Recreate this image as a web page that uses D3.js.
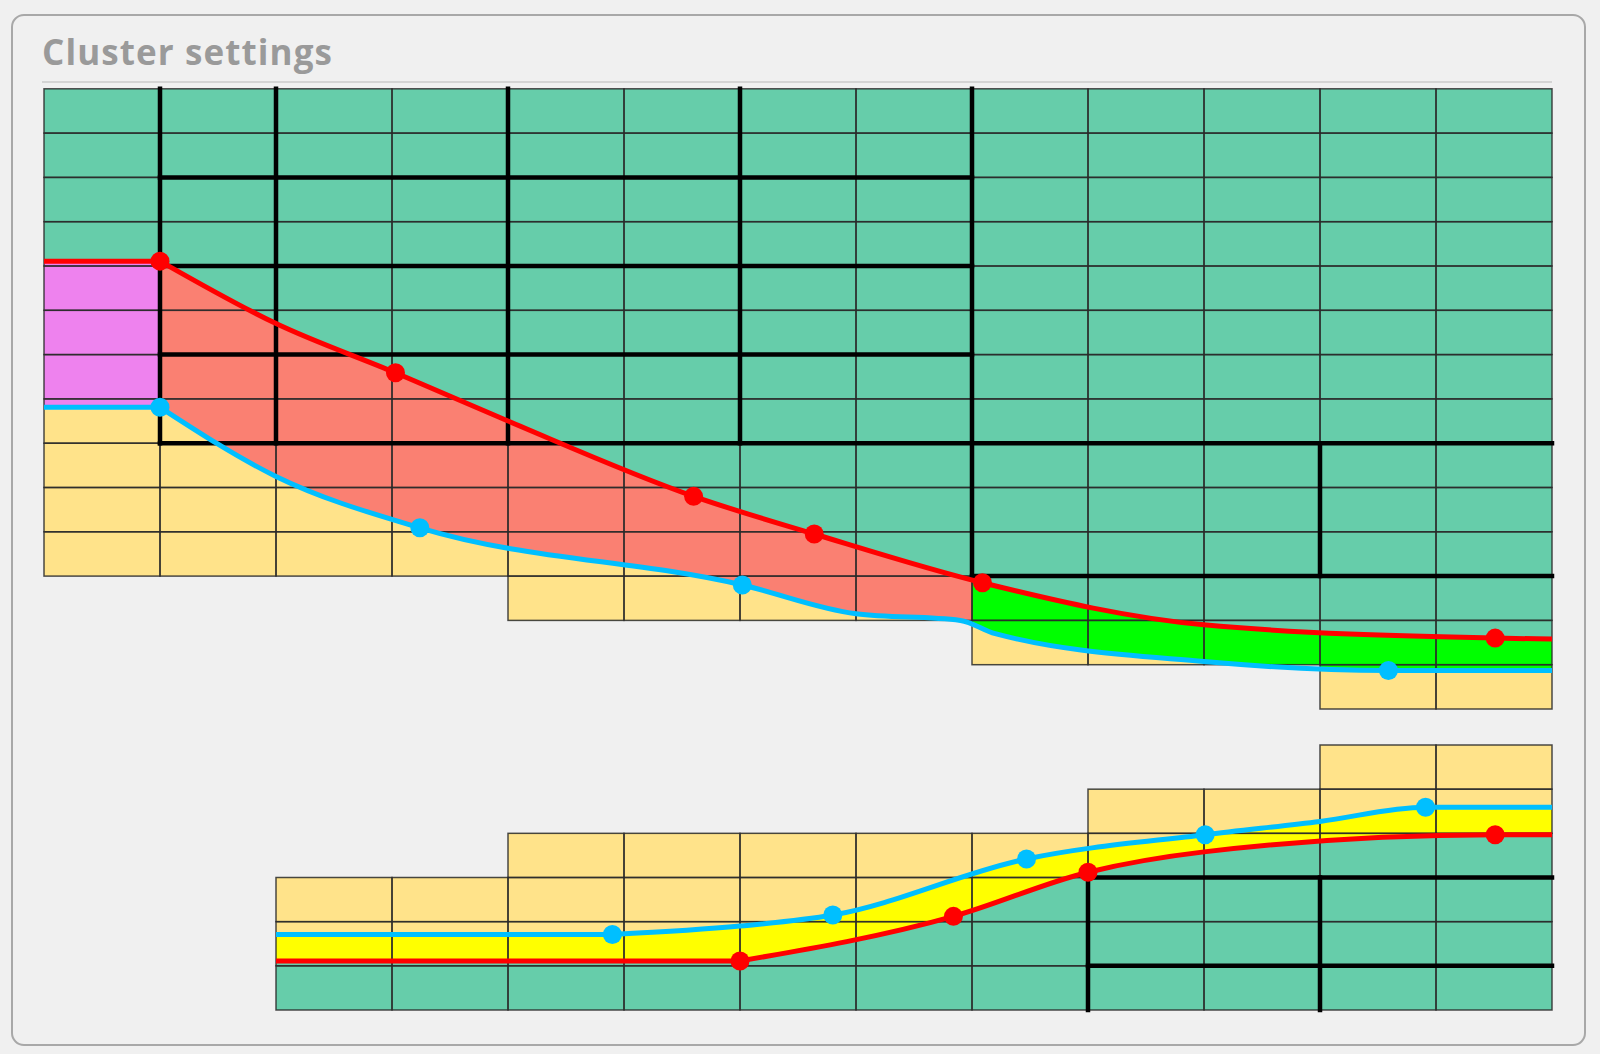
<!DOCTYPE html>
<html><head><meta charset="utf-8">
<script src="https://cdn.jsdelivr.net/npm/d3@7"></script>
<style>body{margin:0;background:#f0f0f0;}svg{display:block;}</style>
</head><body>
<svg id="chart" width="1600" height="1054"></svg>
<script>
/* cluster settings grid */
const topBottomRows = [11, 11, 11, 11, 12, 12, 12, 12, 13, 13, 13, 14, 14];
const botCols = [2, 3, 4, 5, 6, 7, 8, 9, 10, 11, 12];
const botTopRows = [3, 3, 2, 2, 2, 2, 2, 1, 1, 0, 0];

// curves in grid units [col, row, marked]; first segment is the flat start
const topRed = [[0,3.89,0],[1,3.89,1],[2,5.3,0],[3.03,6.41,1],[4,7.5,0],[5.6,9.2,1],[6.64,10.05,1],[8.09,11.15,1],[10,12.1,0],[12.51,12.4,1],[13,12.42,0]];
const topBlue = [[0,7.19,0],[1,7.19,1],[2,8.75,0],[3.24,9.91,1],[6.02,11.2,1],[7,11.85,0],[7.9,12.0,0],[8.2,12.3,0],[10,12.93,0],[11.59,13.13,1],[13,13.13,0]];
const botRed = [[2,4.89,0],[6,4.89,1],[7.84,3.88,1],[9,2.88,1],[10,2.42,0],[12.51,2.03,1],[13,2.03,0]];
const botBlue = [[2,4.29,0],[4.9,4.29,1],[6,4.1,0],[6.8,3.85,1],[8.47,2.58,1],[10.01,2.03,1],[11,1.73,0],[11.91,1.41,1],[13,1.41,0]];

// fill bands between red and blue: [fromCol, toCol, colour]
const topBands = [[0,1,"#ee82ee"],[1,8,"#fa8072"],[8,13,"#00ff00"]];

// thick cluster borders [c0,r0,c1,r1]
const topThick = [[1,0,1,8],[2,0,2,8],[4,0,4,8],[6,0,6,8],[8,0,8,11],[1,2,8,2],[1,4,8,4],[1,6,8,6],[1,8,13,8],[11,8,11,11],[8,11,13,11]];
const botThick = [[9,3,13,3],[9,5,13,5],[9,3,9,6],[11,3,11,6]];

const svg = d3.select("#chart");
const x = d3.scaleLinear().domain([0, 13]).range([44, 1552]);
const yT = d3.scaleLinear().domain([0, 14]).range([88.8, 88.8 + 14 * 44.3]);
const yB = d3.scaleLinear().domain([0, 6]).range([745, 1010]);

const teal = "#66cdaa", beige = "#ffe38a";

// panel
svg.append("rect").attr("x", 12).attr("y", 15).attr("width", 1573).attr("height", 1030)
    .attr("rx", 12).attr("fill", "#f0f0f0").attr("stroke", "#a8a8a8").attr("stroke-width", 2);
svg.append("text").attr("x", 42).attr("y", 65).text("Cluster settings")
    .attr("font-family", "Open Sans").attr("font-weight", "bold").attr("font-size", 35)
    .attr("textLength", 290).attr("fill", "#9a9a9a");
svg.append("line").attr("x1", 42).attr("x2", 1552).attr("y1", 82).attr("y2", 82)
    .attr("stroke", "#d4d4d4").attr("stroke-width", 2);

const defs = svg.append("defs");

// flat lead-in drawn straight, the rest as a monotone curve
function pathOf(data, y) {
    const line = d3.line().curve(d3.curveMonotoneX).x(d => x(d[0])).y(d => y(d[1]));
    return `M${x(data[0][0])},${y(data[0][1])}L` + line(data.slice(1)).slice(1);
}
function pathRev(data, y) {
    const rev = data.slice().reverse();
    const line = d3.line().curve(d3.curveMonotoneX).x(d => x(d[0])).y(d => y(d[1]));
    const head = rev.slice(0, -1);
    return line(head).slice(1) + `L${x(rev[rev.length - 1][0])},${y(rev[rev.length - 1][1])}`;
}

function section(cells, y, red, blue, bands, thick, isTop) {
    const g = svg.append("g");
    const clipId = isTop ? "clipTop" : "clipBot";
    const cp = defs.append("clipPath").attr("id", clipId);
    cells.forEach(c => cp.append("rect").attr("x", x(c.col)).attr("y", y(c.r0))
        .attr("width", x(c.col + 1) - x(c.col)).attr("height", y(c.r1) - y(c.r0)));

    const inner = g.append("g").attr("clip-path", `url(#${clipId})`);
    cells.forEach(c => inner.append("rect").attr("x", x(c.col)).attr("y", y(c.r0))
        .attr("width", x(c.col + 1) - x(c.col)).attr("height", y(c.r1) - y(c.r0)).attr("fill", teal));

    // beige region: below blue on top, above blue on bottom
    const edge = isTop ? 1100 : 0;
    const last = blue[blue.length - 1], first = blue[0];
    inner.append("path").attr("fill", beige)
        .attr("d", pathOf(blue, y) + `L${x(last[0]) + 5},${y(last[1])}L${x(last[0]) + 5},${edge}L${x(first[0]) - 5},${edge}L${x(first[0]) - 5},${y(first[1])}Z`);
    const band = pathOf(red, y) + "L" + pathRev(blue, y) + "Z";
    bands.forEach((b, i) => {
        const bid = clipId + "band" + i;
        defs.append("clipPath").attr("id", bid).append("rect")
            .attr("x", x(b[0])).attr("y", 0).attr("width", x(b[1]) - x(b[0])).attr("height", 1100);
        inner.append("g").attr("clip-path", `url(#${bid})`)
            .append("path").attr("d", band).attr("fill", b[2]);
    });

    // thin grid
    cells.forEach(c => {
        for (let r = c.r0; r < c.r1; r++) {
            g.append("rect").attr("x", x(c.col)).attr("y", y(r))
                .attr("width", x(c.col + 1) - x(c.col)).attr("height", y(r + 1) - y(r))
                .attr("fill", "none").attr("stroke", "#2a2a2a").attr("stroke-width", 1.5).attr("stroke-opacity", 0.85);
        }
    });
    // thick
    thick.forEach(t => g.append("line").attr("x1", x(t[0])).attr("y1", y(t[1]))
        .attr("x2", x(t[2])).attr("y2", y(t[3])).attr("stroke", "#000").attr("stroke-width", 4.5)
        .attr("stroke-linecap", "square"));

    // curves
    [[red, "#ff0000"], [blue, "#00bfff"]].forEach(([data, col]) => {
        g.append("path").attr("d", pathOf(data, y)).attr("fill", "none")
            .attr("stroke", col).attr("stroke-width", 5);
        g.selectAll(null).data(data.filter(d => d[2])).join("circle")
            .attr("cx", d => x(d[0])).attr("cy", d => y(d[1])).attr("r", 9.5).attr("fill", col);
    });
}

const topCells = topBottomRows.map((r, i) => ({col: i, r0: 0, r1: r}));
const botCells = botCols.map((c, i) => ({col: c, r0: botTopRows[i], r1: 6}));

section(topCells, yT, topRed, topBlue, topBands, topThick, true);
section(botCells, yB, botRed, botBlue, [[2, 13, "#ffff00"]], botThick, false);
</script>
</body></html>
